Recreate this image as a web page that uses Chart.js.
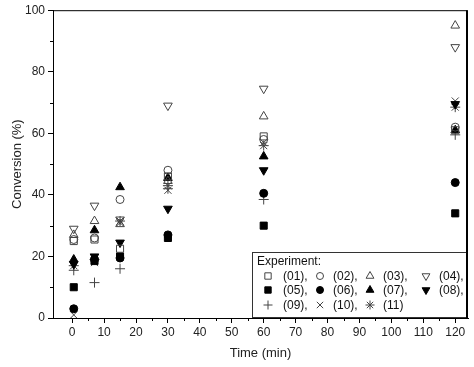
<!DOCTYPE html>
<html>
<head>
<meta charset="utf-8">
<script src="https://cdn.jsdelivr.net/npm/chart.js@4/dist/chart.umd.min.js"></script>
<style>
  html, body { margin: 0; padding: 0; background: #fff; }
  #wrap { width: 474px; height: 367px; }
</style>
</head>
<body>
<div id="wrap"><canvas id="c" width="474" height="367"></canvas></div>
<script>
// ---- data ----
const times = [0.5, 7, 15, 30, 60, 120];
const exp01 = [25, 25.5, 22.5, 46, 59, 61];
const exp02 = [25.5, 26, 38.5, 48, 58, 62];
const exp03 = [27, 31.5, 30.5, 44.5, 65.5, 95];
const exp04 = [29, 36.5, 32, 69, 74.5, 88];
const exp05 = [10, 18.5, 20, 26, 30, 34];
const exp06 = [3, 19, 19.5, 27, 40.5, 44];
const exp07 = [19, 28.5, 42.5, 45.5, 52.5, 61];
const exp08 = [17.5, 20, 24.5, 35.5, 48, 69.5];
const exp09 = [15.5, 11.5, 16, 42, 38.5, 59.5];
const exp10 = [1, 18, 31, 41.5, 57, 70.5];
const exp11 = [17, 19, 31.5, 43, 56, 68.5];
const labels = ['(01),', '(02),', '(03),', '(04),', '(05),', '(06),', '(07),', '(08),', '(09),', '(10),', '(11)'];
const xTicks = [0, 10, 20, 30, 40, 50, 60, 70, 80, 90, 100, 110, 120];
const yTicks = [0, 20, 40, 60, 80, 100];

const series = [exp01, exp02, exp03, exp04, exp05, exp06, exp07, exp08, exp09, exp10, exp11];
const styles = [
  {ps: 'rect', fill: false, rot: 0, r: 5},
  {ps: 'circle', fill: false, rot: 0, r: 4},
  {ps: 'triangle', fill: false, rot: 0, r: 5},
  {ps: 'triangle', fill: false, rot: 180, r: 5},
  {ps: 'rect', fill: true, rot: 0, r: 5},
  {ps: 'circle', fill: true, rot: 0, r: 4},
  {ps: 'triangle', fill: true, rot: 0, r: 5},
  {ps: 'triangle', fill: true, rot: 180, r: 5},
  {ps: 'cross', fill: false, rot: 0, r: 5},
  {ps: 'crossRot', fill: false, rot: 0, r: 5},
  {ps: 'star', fill: false, rot: 0, r: 5}
];

const datasets = series.map((vals, i) => {
  const s = styles[i];
  return {
    label: labels[i],
    data: times.map((t, k) => ({x: t, y: vals[k]})),
    pointStyle: s.ps,
    pointRotation: s.rot,
    pointRadius: s.r,
    pointBorderWidth: 1,
    pointBackgroundColor: s.fill ? '#000' : 'rgba(255,255,255,0)',
    pointBorderColor: s.fill ? '#000' : '#444',
    showLine: false
  };
});

const FONT = 'Liberation Sans, Arial, sans-serif';

const framePlugin = {
  id: 'frame',
  afterDraw(chart) {
    const ctx = chart.ctx;
    const a = chart.chartArea;
    const xs = chart.scales.x, ys = chart.scales.y;
    ctx.save();
    ctx.strokeStyle = '#000';
    ctx.lineWidth = 1;
    ctx.beginPath();
    ctx.moveTo(a.left + 0.5, a.top + 0.5);
    ctx.lineTo(a.right - 0.5, a.top + 0.5);
    ctx.stroke();
    ctx.lineWidth = 2;
    ctx.beginPath();
    ctx.moveTo(a.right - 1, a.top);
    ctx.lineTo(a.right - 1, a.bottom);
    ctx.stroke();
    // minor ticks
    ctx.lineWidth = 1;
    ctx.beginPath();
    for (let v = 5; v < 120; v += 10) {
      const px = Math.round(xs.getPixelForValue(v)) + 0.5;
      ctx.moveTo(px, a.bottom); ctx.lineTo(px, a.bottom + 3);
    }
    for (let v = 10; v < 100; v += 20) {
      const py = Math.round(ys.getPixelForValue(v)) + 0.5;
      ctx.moveTo(a.left, py); ctx.lineTo(a.left - 3, py);
    }
    ctx.stroke();
    ctx.restore();
  }
};

const legendPlugin = {
  id: 'boxLegend',
  afterDatasetsDraw(chart) {
    const ctx = chart.ctx;
    const a = chart.chartArea;
    const bx = 252, by = 252, bw = a.right - bx, bh = a.bottom - by - 1;
    ctx.save();
    ctx.fillStyle = '#fff';
    ctx.fillRect(bx, by, bw, bh);
    ctx.strokeStyle = '#333';
    ctx.lineWidth = 1;
    ctx.strokeRect(bx + 0.5, by + 0.5, bw - 1, bh);
    ctx.fillStyle = '#111';
    ctx.font = '12px ' + FONT;
    ctx.textBaseline = 'middle';
    ctx.textAlign = 'left';
    ctx.fillText('Experiment:', 257, 262);
    const colSym = [268, 320, 370, 426];
    const colTxt = [283, 333, 383, 439];
    const rowY = [276, 290, 305];
    for (let i = 0; i < labels.length; i++) {
      const r = Math.floor(i / 4), c = i % 4;
      const s = styles[i];
      ctx.fillStyle = s.fill ? '#000' : 'rgba(255,255,255,0)';
      ctx.strokeStyle = s.fill ? '#000' : '#444';
      ctx.lineWidth = 1;
      Chart.helpers.drawPoint(ctx, {pointStyle: s.ps, radius: s.r - 0.5, rotation: s.rot, borderWidth: 1}, colSym[c], rowY[r]);
      ctx.fillStyle = '#111';
      ctx.fillText(labels[i], colTxt[c], rowY[r] + 1);
    }
    ctx.restore();
  }
};

new Chart(document.getElementById('c'), {
  type: 'scatter',
  data: { datasets },
  options: {
    responsive: false,
    animation: false,
    devicePixelRatio: 1,
    layout: { padding: { top: 7, right: 3, left: 0, bottom: 0 } },
    plugins: { legend: { display: false }, tooltip: { enabled: false } },
    scales: {
      x: {
        type: 'linear',
        min: -6, max: 124,
        afterBuildTicks: s => { s.ticks = xTicks.map(v => ({value: v})); },
        afterFit: s => { s.height = 49; },
        grid: { drawOnChartArea: false, tickLength: 5, color: '#000', tickColor: '#000' },
        border: { color: '#000', width: 1 },
        ticks: { color: '#222', font: { family: FONT, size: 12 }, padding: 2, maxRotation: 0, autoSkip: false },
        title: { display: true, text: 'Time (min)', color: '#222', font: { family: FONT, size: 13 }, padding: { top: 0, bottom: 6 } }
      },
      y: {
        type: 'linear',
        min: 0, max: 100,
        afterBuildTicks: s => { s.ticks = yTicks.map(v => ({value: v})); },
        afterFit: s => { s.width = 53; },
        grid: { drawOnChartArea: false, tickLength: 5, color: '#000', tickColor: '#000' },
        border: { color: '#000', width: 1 },
        ticks: { color: '#222', font: { family: FONT, size: 12 }, padding: 3, autoSkip: false },
        title: { display: true, text: 'Conversion (%)', color: '#222', font: { family: FONT, size: 13 }, padding: { top: 10, bottom: 0 } }
      }
    }
  },
  plugins: [framePlugin, legendPlugin]
});
</script>
</body>
</html>
